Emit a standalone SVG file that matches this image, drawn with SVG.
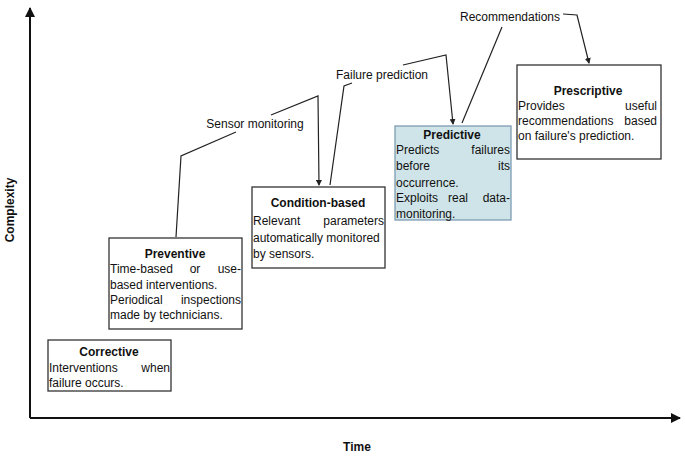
<svg xmlns="http://www.w3.org/2000/svg" width="685" height="458" viewBox="0 0 685 458">
<style>
text{font-family:"Liberation Sans",Arial,sans-serif;font-size:12px;fill:#111}
.t{font-weight:bold;text-anchor:middle}
.e{text-anchor:end}
.m{text-anchor:middle}
.box{fill:#fff;stroke:#333;stroke-width:1.3}
.c{fill:none;stroke:#222;stroke-width:1.2}
</style>
<defs>
<marker id="a" markerWidth="6" markerHeight="6" refX="5" refY="3" orient="auto" markerUnits="userSpaceOnUse"><path d="M0,0L6,3L0,6z" fill="#222"/></marker>
<marker id="b" markerWidth="10" markerHeight="10" refX="9" refY="5" orient="auto" markerUnits="userSpaceOnUse"><path d="M0,0L10,5L0,10z" fill="#111"/></marker>
</defs>
<g id="axes">
<path d="M30,418V8" stroke="#111" stroke-width="2" fill="none" marker-end="url(#b)"/>
<path d="M30,418H680" stroke="#111" stroke-width="2" fill="none" marker-end="url(#b)"/>
<text class="t" transform="translate(14,210) rotate(-90)">Complexity</text>
<text class="t" x="357" y="451">Time</text>
</g>
<g id="connectors">
<path class="c" d="M176,237L181,156L236,132"/>
<path class="c" d="M271,115L318,96L319,185" marker-end="url(#a)"/>
<text class="m" x="255" y="128">Sensor monitoring</text>
<path class="c" d="M330,185L344,86L352,83"/>
<path class="c" d="M403,65L446,55L453,124" marker-end="url(#a)"/>
<text class="m" x="382" y="79">Failure prediction</text>
<path class="c" d="M462,123L502,27"/>
<path class="c" d="M563,14L577,15L589,63" marker-end="url(#a)"/>
<text class="m" x="510" y="21">Recommendations</text>
</g>
<g id="corrective">
<rect class="box" x="48" y="340" width="123" height="51"/>
<text class="t" x="109" y="356">Corrective</text>
<text x="49" y="372">Interventions</text><text class="e" x="170" y="372">when</text>
<text x="49" y="387">failure occurs.</text>
</g>
<g id="preventive">
<rect class="box" x="109" y="238" width="133" height="91"/>
<text class="t" x="175" y="258">Preventive</text>
<text x="110" y="273">Time-based</text><text class="m" x="195" y="273">or</text><text class="e" x="241" y="273">use-</text>
<text x="110" y="289">based interventions.</text>
<text x="110" y="304">Periodical</text><text class="e" x="241" y="304">inspections</text>
<text x="110" y="319">made by technicians.</text>
</g>
<g id="condition-based">
<rect class="box" x="252" y="187" width="133" height="81"/>
<text class="t" x="318" y="207">Condition-based</text>
<text x="253" y="225">Relevant</text><text class="e" x="384" y="225">parameters</text>
<text x="253" y="242">automatically monitored</text>
<text x="253" y="258">by sensors.</text>
</g>
<g id="predictive">
<rect x="395" y="126" width="116" height="94" fill="#cfe4e8" stroke="#7d9cb2" stroke-width="1.3"/>
<text class="t" x="452" y="139">Predictive</text>
<text x="396" y="154">Predicts</text><text class="e" x="510" y="154">failures</text>
<text x="396" y="170">before</text><text class="e" x="510" y="170">its</text>
<text x="396" y="187">occurrence.</text>
<text x="396" y="202">Exploits</text><text class="m" x="458" y="202">real</text><text class="e" x="510" y="202">data-</text>
<text x="396" y="218">monitoring.</text>
</g>
<g id="prescriptive">
<rect class="box" x="517" y="65" width="144" height="94"/>
<text class="t" x="588" y="95">Prescriptive</text>
<text x="518" y="110">Provides</text><text class="e" x="657" y="110">useful</text>
<text x="518" y="125">recommendations</text><text class="e" x="657" y="125">based</text>
<text x="518" y="140">on failure's prediction.</text>
</g>
</svg>
